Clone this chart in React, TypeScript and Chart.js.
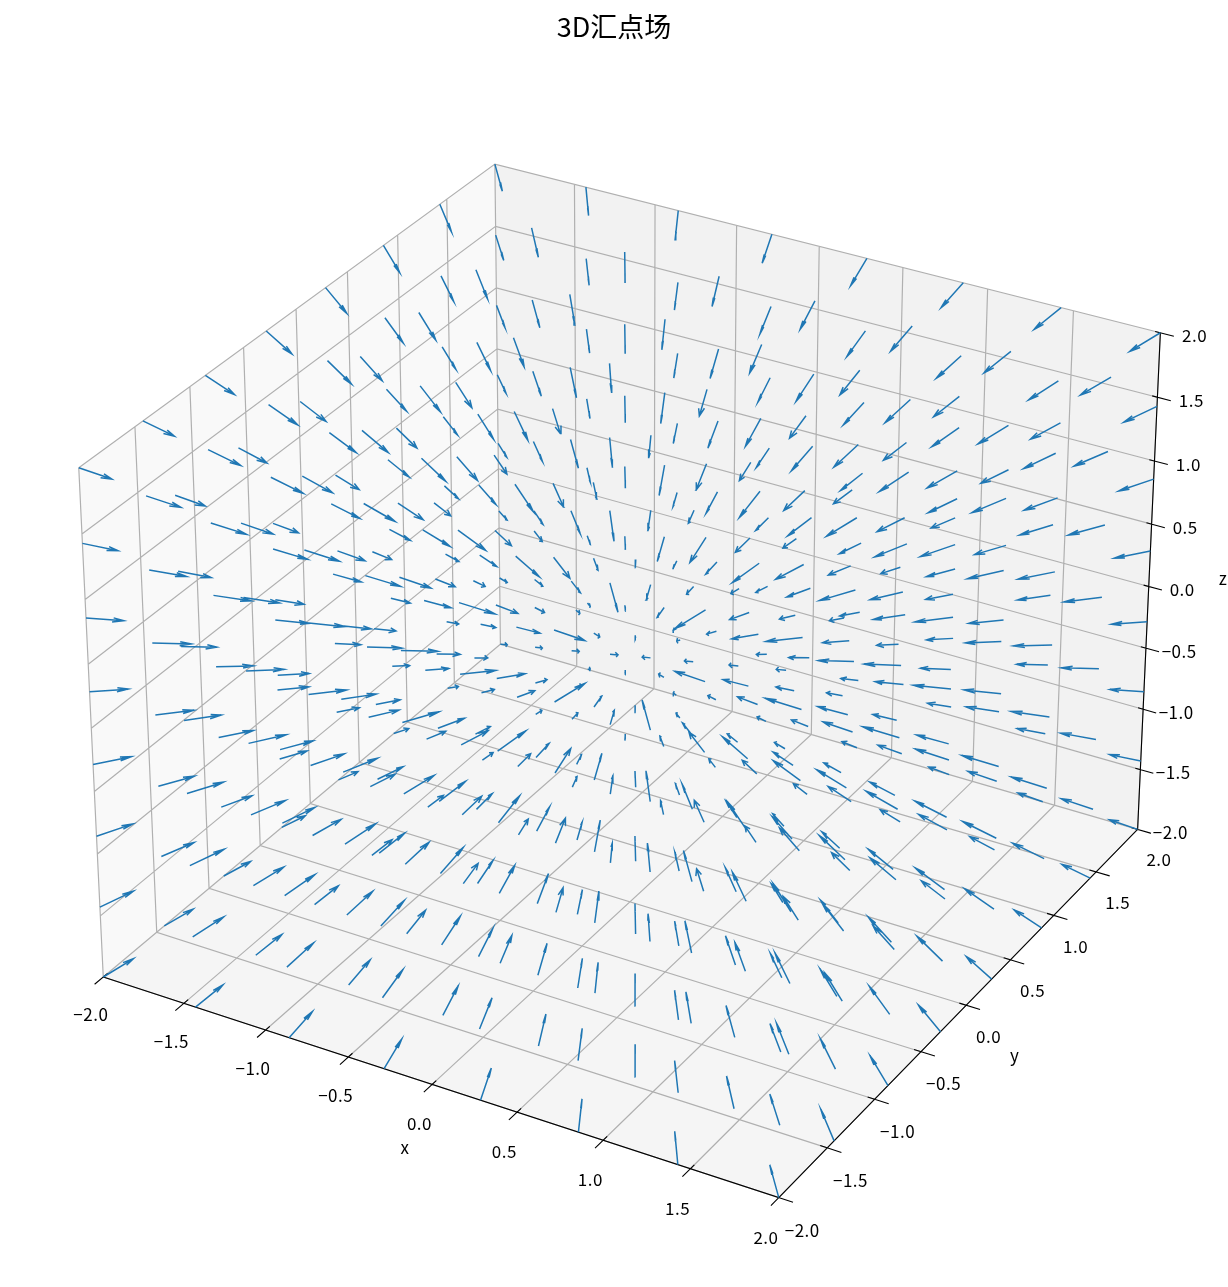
import React, { useEffect, useRef } from "react";
import { Chart, registerables } from "chart.js";

Chart.register(...registerables);

// ---- data ----
const TITLE = "3D汇点场";
const tickValues = [-2, -1.5, -1, -0.5, 0, 0.5, 1, 1.5, 2];
const tickLabels = ["−2.0", "−1.5", "−1.0", "−0.5", "0.0", "0.5", "1.0", "1.5", "2.0"];
const gridPositions = [-2, -1.4286, -0.8571, -0.2857, 0.2857, 0.8571, 1.4286, 2];
const magnitudeClass = [3, 2, 1, 0, 0, 1, 2, 3];
// shrink factor of an arrow, keyed by the sorted magnitude classes of its tail
const arrowShrink: Record<string, number> = {
  "000": 0.4041, "001": 0.2111, "002": 0.1347, "003": 0.098,
  "011": 0.1606, "012": 0.1183, "013": 0.0911, "022": 0.098,
  "023": 0.0808, "033": 0.0704, "111": 0.1347, "112": 0.1067,
  "113": 0.0855, "122": 0.0911, "123": 0.0768, "133": 0.0677,
  "222": 0.0808, "223": 0.0704, "233": 0.0631, "333": 0.0577,
};

// ---- colours / sizes ----
const W = 1228;
const H = 1287;
const TITLE_H = 43.4;
const CX = 630;
const CY = 656;
const SCALE = 6500;
const FONT = '"Noto Sans CJK SC", "Noto Sans", sans-serif';

// ---- camera (elev 30, azim -60, box 4:4:3, dist 10) ----
const R = [0.59525, 0.59525, 0.44645];
const U3 = [0.866025, 0.5, 0];
const V3 = [-0.25, 0.433013, 0.866025];
const W3 = [0.433013, -0.75, 0.5];
const dot = (a: number[], b: number[]) => a[0] * b[0] + a[1] * b[1] + a[2] * b[2];
function project(x: number, y: number, z: number) {
  const q = [(x / 2) * R[0], (y / 2) * R[1], (z / 2) * R[2]];
  const d = 10 - dot(W3, q);
  return { x: dot(U3, q) / d, y: dot(V3, q) / d };
}
const GAP = { x: NaN, y: NaN };
type P = { x: number; y: number };
function polyline(out: P[], pts: number[][]) {
  pts.forEach((p) => out.push(project(p[0], p[1], p[2])));
  out.push(GAP);
}

// ---- geometry ----
function paneData() {
  const a = -2;
  const b = 2;
  const ring = (pts: number[][]) => pts.concat([pts[0]]).map((p) => project(p[0], p[1], p[2]));
  return {
    left: ring([[a, a, a], [a, b, a], [a, b, b], [a, a, b]]),
    back: ring([[a, b, a], [b, b, a], [b, b, b], [a, b, b]]),
    floor: ring([[a, a, a], [b, a, a], [b, b, a], [a, b, a]]),
  };
}
function gridData() {
  const out: P[] = [];
  tickValues.forEach((t) => {
    polyline(out, [[t, -2, -2], [t, 2, -2], [t, 2, 2]]);
    polyline(out, [[2, t, -2], [-2, t, -2], [-2, t, 2]]);
    polyline(out, [[-2, -2, t], [-2, 2, t], [2, 2, t]]);
  });
  return out;
}
function axisData() {
  const out: P[] = [];
  polyline(out, [[-2, -2, -2], [2, -2, -2], [2, 2, -2], [2, 2, 2]]);
  tickValues.forEach((t) => {
    polyline(out, [[t, -2.08, -2], [t, -1.96, -2]]);
    polyline(out, [[2.08, t, -2], [1.96, t, -2]]);
    polyline(out, [[1.97, 2, t], [2.077, 2, t]]);
  });
  return out;
}
function rotated(u: number, v: number, w: number, sign: number) {
  const n = Math.hypot(u, v);
  const xp = n ? v / n : 0;
  const yp = n ? -u / n : 1;
  const c = Math.cos((15 * Math.PI) / 180);
  const s = Math.sin((15 * Math.PI) / 180) * sign;
  const r12 = xp * yp * (1 - c);
  return [
    (c + xp * xp * (1 - c)) * u + r12 * v + yp * s * w,
    r12 * u + (c + yp * yp * (1 - c)) * v - xp * s * w,
    -yp * s * u + xp * s * v + c * w,
  ];
}
function arrowData() {
  const out: P[] = [];
  const head = 0.3;
  gridPositions.forEach((x, i) =>
    gridPositions.forEach((y, j) =>
      gridPositions.forEach((z, k) => {
        const key = [magnitudeClass[i], magnitudeClass[j], magnitudeClass[k]].sort().join("");
        const f = arrowShrink[key];
        const u = -x * f;
        const v = -y * f;
        const w = -z * f;
        const tip = [x + u, y + v, z + w];
        const a = rotated(u, v, w, 1);
        const b = rotated(u, v, w, -1);
        polyline(out, [[x, y, z], tip]);
        polyline(out, [
          [tip[0] - head * a[0], tip[1] - head * a[1], tip[2] - head * a[2]],
          tip,
          [tip[0] - head * b[0], tip[1] - head * b[1], tip[2] - head * b[2]],
        ]);
      })
    )
  );
  return out;
}

const textPlugin = {
  id: "axis3dText",
  afterDatasetsDraw(chart: any) {
    const { ctx, scales } = chart;
    const put = (s: string, p: P) => {
      ctx.fillText(s, scales.x.getPixelForValue(p.x), scales.y.getPixelForValue(p.y));
    };
    ctx.save();
    ctx.fillStyle = "#000";
    ctx.textAlign = "center";
    ctx.textBaseline = "middle";
    ctx.font = `17px ${FONT}`;
    ctx.letterSpacing = "0.5px";
    tickValues.forEach((t, i) => {
      put(tickLabels[i], project(t, -2.127, -2.216));
      put(tickLabels[i], project(2.134, t, -2.2));
      put(tickLabels[i], project(2.167, 2.058, t));
    });
    ctx.letterSpacing = "0px";
    put("x", project(0, -2.27, -2.3));
    put("y", project(2.285, 0, -2.291));
    put("z", project(2.3, 2.275, 0));
    ctx.restore();
  },
};

const line = (data: P[], color: string, width: number) => ({
  type: "scatter" as const,
  data,
  showLine: true,
  borderColor: color,
  borderWidth: width,
  pointRadius: 0,
  pointHoverRadius: 0,
  spanGaps: false,
  fill: false,
  tension: 0,
  borderCapStyle: "butt" as const,
  borderJoinStyle: "miter" as const,
});
const pane = (data: P[], color: string) => ({
  ...line(data, "rgba(0,0,0,0)", 0),
  fill: "shape" as const,
  backgroundColor: color,
});

export default function App() {
  const ref = useRef<HTMLCanvasElement>(null);
  useEffect(() => {
    const panes = paneData();
    const chart = new Chart(ref.current!, {
      type: "scatter",
      data: {
        datasets: [
          { ...line(arrowData(), "#1f77b4", 1.5), order: 0 },
          { ...line(axisData(), "#000000", 1.1), order: 1 },
          { ...line(gridData(), "#b0b0b0", 1.2), order: 2 },
          { ...pane(panes.left, "#f9f9f9"), order: 3 },
          { ...pane(panes.back, "#f2f2f2"), order: 4 },
          { ...pane(panes.floor, "#f5f5f5"), order: 5 },
        ] as any,
      },
      options: {
        animation: false,
        responsive: false,
        events: [],
        layout: { padding: 0 },
        plugins: {
          legend: { display: false },
          tooltip: { enabled: false },
          title: {
            display: true,
            text: TITLE,
            color: "#000",
            font: { family: FONT, size: 27, weight: "normal", lineHeight: 1.2 },
            padding: { top: 11, bottom: 0 },
          },
        },
        scales: {
          x: { type: "linear", display: false, min: (0 - CX) / SCALE, max: (W - CX) / SCALE },
          y: { type: "linear", display: false, min: (CY - H) / SCALE, max: (CY - TITLE_H) / SCALE },
        },
      },
      plugins: [textPlugin],
    });
    return () => chart.destroy();
  }, []);
  return (
    <canvas
      ref={ref}
      width={W}
      height={H}
      style={{ position: "absolute", left: 0, top: 0, display: "block" }}
    />
  );
}
